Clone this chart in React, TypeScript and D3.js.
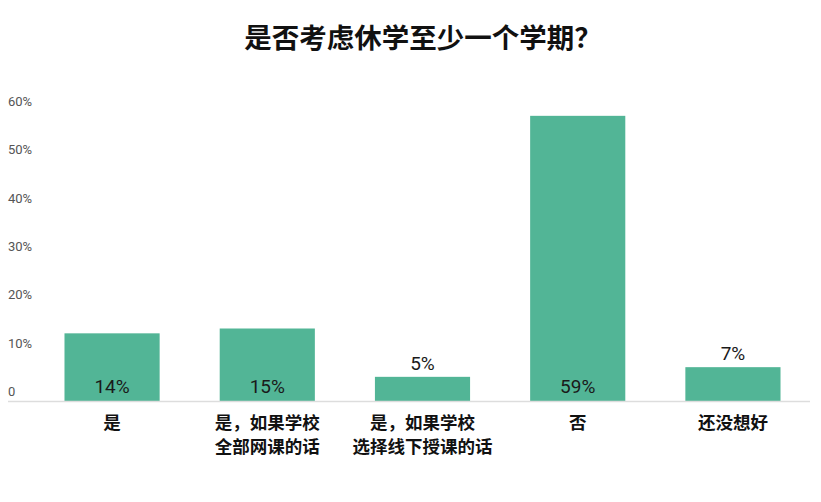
import * as d3 from 'd3'

const WIDTH = 821
const HEIGHT = 502
const MARGIN = { top: 111, right: 11, bottom: 101, left: 35 }

const TITLE = '是否考虑休学至少一个学期？'
const categories = [
  ['是'],
  ['是，如果学校', '全部网课的话'],
  ['是，如果学校', '选择线下授课的话'],
  ['否'],
  ['还没想好'],
]
const values = [14, 15, 5, 59, 7]
const yTicks = [0, 10, 20, 30, 40, 50, 60]

const BAR_COLOR = '#52b596'

export default function App() {
  const keys = categories.map((c) => c.join(''))
  const x = d3
    .scaleBand<string>()
    .domain(keys)
    .range([MARGIN.left, WIDTH - MARGIN.right])
    .paddingInner(0.387)
    .paddingOuter(0.19)
  const y = d3
    .scaleLinear()
    .domain([0, 60])
    .range([HEIGHT - MARGIN.bottom, MARGIN.top])

  const base = y(0)

  return (
    <svg
      width={WIDTH}
      height={HEIGHT}
      style={{ position: 'absolute', left: 0, top: 0, background: '#fff' }}
      fontFamily="Roboto, 'Noto Sans CJK SC', sans-serif"
    >
      <text
        x={423}
        y={48}
        textAnchor="middle"
        fontSize={27.5}
        fontWeight="bold"
        fill="#111"
        fontFamily="'Noto Sans CJK SC', sans-serif"
      >
        {TITLE}
      </text>

      {yTicks.map((t) => (
        <text key={t} x={8} y={y(t) - 5} fontSize={13} fill="#555">
          {t === 0 ? '0' : `${t}%`}
        </text>
      ))}

      {values.map((v, i) => {
        const bx = x(keys[i])!
        const bw = x.bandwidth()
        const top = y(v)
        const inside = base - top > 40
        return (
          <g key={keys[i]}>
            <rect x={bx} y={top} width={bw} height={base - top} fill={BAR_COLOR} />
            <text
              x={bx + bw / 2}
              y={inside ? base - 8 : top - 7}
              textAnchor="middle"
              fontSize={19}
              fill="#1a1a1a"
            >
              {`${v}%`}
            </text>
          </g>
        )
      })}

      <line x1={8} x2={810} y1={base + 0.5} y2={base + 0.5} stroke="#ddd" strokeWidth={1.5} />

      {categories.map((lines, i) => {
        const cx = x(keys[i])! + x.bandwidth() / 2
        return (
          <g key={keys[i]}>
            {lines.map((l, j) => (
              <text
                key={j}
                x={cx}
                y={429 + j * 23.5}
                textAnchor="middle"
                fontSize={17.5}
                fontWeight="bold"
                fill="#111"
                fontFamily="'Noto Sans CJK SC', sans-serif"
              >
                {l}
              </text>
            ))}
          </g>
        )
      })}
    </svg>
  )
}
